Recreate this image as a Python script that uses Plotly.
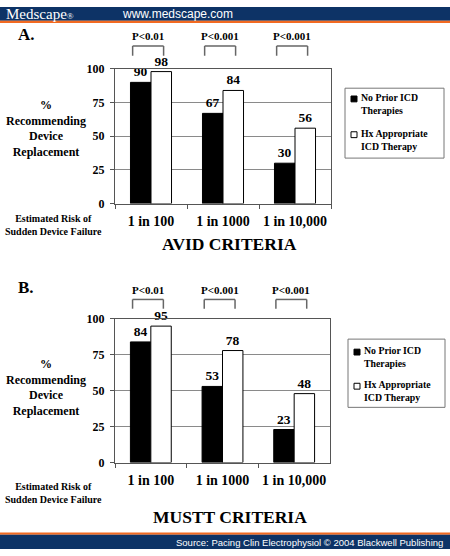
import plotly.graph_objects as go

# ---------------- data ----------------
categories = ["1 in 100", "1 in 1000", "1 in 10,000"]
avid_no_prior = [90, 67, 30]
avid_hx = [98, 84, 56]
mustt_no_prior = [84, 53, 23]
mustt_hx = [95, 78, 48]
avid_p = ["P<0.01", "P<0.001", "P<0.001"]
mustt_p = ["P<0.01", "P<0.001", "P<0.001"]
y_ticks = [0, 25, 50, 75, 100]
series_names = ["No Prior ICD<br>Therapies", "Hx Appropriate<br>ICD Therapy"]

W, H = 450, 556
SERIF = "Liberation Serif"
SANS = "Liberation Sans"
NAVY = "#0d3366"
ORANGE = "#f26a21"


def px(x):
    return x / W


def py(y):
    return 1 - y / H


fig = go.Figure()

panels = [
    ("x", "y", avid_no_prior, avid_hx),
    ("x2", "y2", mustt_no_prior, mustt_hx),
]

for xa, ya, s1, s2 in panels:
    fig.add_trace(go.Bar(
        x=categories, y=s1, xaxis=xa, yaxis=ya, name=series_names[0],
        marker=dict(color="black", line=dict(color="black", width=1)),
        text=[str(v) for v in s1], textposition="outside",
        textfont=dict(family=SERIF, size=13.5, color="black", weight="bold"),
        cliponaxis=False, showlegend=False,
    ))
    fig.add_trace(go.Bar(
        x=categories, y=s2, xaxis=xa, yaxis=ya, name=series_names[1],
        marker=dict(color="white", line=dict(color="black", width=1)),
        text=[str(v) for v in s2], textposition="outside",
        textfont=dict(family=SERIF, size=13.5, color="black", weight="bold"),
        cliponaxis=False, showlegend=False,
    ))

axis_common_x = dict(
    type="category", range=[-0.5, 2.5], showline=True, mirror=True,
    linecolor="#555", linewidth=1, ticks="outside", tickson="boundaries",
    ticklen=4, tickcolor="#555", showgrid=False, fixedrange=True, tickangle=0,
    tickfont=dict(family=SERIF, size=14, color="black", weight="bold"),
    ticklabelstandoff=5,
)
axis_common_y = dict(
    range=[0, 100], tickvals=y_ticks, showline=True, mirror=True,
    linecolor="#555", linewidth=1, ticks="outside", ticklen=4,
    tickcolor="#555", showgrid=True, gridcolor="#8a8a8a", gridwidth=1,
    zeroline=False, fixedrange=True,
    tickfont=dict(family=SERIF, size=12, color="black", weight="bold"),
    ticklabelstandoff=3,
)

fig.update_layout(
    width=W, height=H, margin=dict(l=0, r=0, t=0, b=0),
    paper_bgcolor="white", plot_bgcolor="white",
    barmode="group", bargap=0.43, bargroupgap=0.0,
    xaxis=dict(domain=[px(115), px(331)], anchor="y", **axis_common_x),
    yaxis=dict(domain=[py(201.7), py(63.5)], anchor="x", **axis_common_y),
    xaxis2=dict(domain=[px(115), px(330)], anchor="y2", **axis_common_x),
    yaxis2=dict(domain=[py(467.3), py(320.0)], anchor="x2", **axis_common_y),
)

shapes = []
annotations = []

# header / footer bands
shapes.append(dict(type="rect", xref="paper", yref="paper", x0=0, x1=1,
                   y0=py(14), y1=1, fillcolor=NAVY, line=dict(width=0), layer="below"))
shapes.append(dict(type="rect", xref="paper", yref="paper", x0=0, x1=1,
                   y0=py(16.5), y1=py(14), fillcolor=ORANGE, line=dict(width=0), layer="below"))
shapes.append(dict(type="rect", xref="paper", yref="paper", x0=0, x1=1,
                   y0=py(541.5), y1=py(539), fillcolor=ORANGE, line=dict(width=0), layer="below"))
shapes.append(dict(type="rect", xref="paper", yref="paper", x0=0, x1=1,
                   y0=0, y1=py(541.5), fillcolor=NAVY, line=dict(width=0), layer="below"))

annotations.append(dict(xref="paper", yref="paper", x=px(4), y=py(7.5), xanchor="left",
                        yanchor="middle", showarrow=False,
                        text="Medscape<span style='font-size:9px'>®</span>",
                        font=dict(family=SERIF, size=15, color="white")))
annotations.append(dict(xref="paper", yref="paper", x=px(120), y=py(7.5), xanchor="left",
                        yanchor="middle", showarrow=False, text="www.medscape.com",
                        font=dict(family=SANS, size=12, color="white")))
annotations.append(dict(xref="paper", yref="paper", x=px(445), y=py(549), xanchor="right",
                        yanchor="middle", showarrow=False,
                        text="Source: Pacing Clin Electrophysiol © 2004 Blackwell Publishing",
                        font=dict(family=SANS, size=9.5, color="white")))

panel_text = [
    dict(lab="A.", laby=28, py_=30, bt=40, bb=50, xa="x",
         title="AVID CRITERIA", ty=243, yt=124.5, er=223.5,
         leg=(345, 444, 83.3, 155), legy=[99.3, 136], pvals=avid_p),
    dict(lab="B.", laby=288, py_=290.5, bt=300, bb=309.5, xa="x2",
         title="MUSTT CRITERIA", ty=523, yt=390.5, er=499,
         leg=(348, 445, 340.7, 410.7), legy=[359, 394], pvals=mustt_p),
]

half = 0.215
for p in panel_text:
    annotations.append(dict(xref="paper", yref="paper", x=px(16), y=py(p["laby"]),
                            xanchor="left", yanchor="middle", showarrow=False, text=p["lab"],
                            font=dict(family=SERIF, size=17, color="black", weight="bold")))
    for i, ptxt in enumerate(p["pvals"]):
        annotations.append(dict(xref=p["xa"], yref="paper", x=i - 0.04, y=py(p["py_"]),
                                xanchor="center", yanchor="middle", showarrow=False, text=ptxt,
                                font=dict(family=SERIF, size=11, color="black", weight="bold")))
        x0, x1 = i - 0.04 - half, i - 0.04 + half
        for (a, b, c, d) in [(x0, x0, p["bb"], p["bt"]), (x0, x1, p["bt"], p["bt"]),
                             (x1, x1, p["bt"], p["bb"])]:
            shapes.append(dict(type="line", xref=p["xa"], yref="paper", x0=a, x1=b,
                               y0=py(c), y1=py(d), line=dict(color="#666", width=1.5)))
    annotations.append(dict(xref="paper", yref="paper", x=px(230), y=py(p["ty"]),
                            xanchor="center", yanchor="middle", showarrow=False, text=p["title"],
                            font=dict(family=SERIF, size=17.5, color="black", weight="bold")))
    annotations.append(dict(xref="paper", yref="paper", x=px(46), y=py(p["yt"]),
                            xanchor="center", yanchor="middle", showarrow=False,
                            text="%<br>Recommending<br>Device<br>Replacement", align="center",
                            font=dict(family=SERIF, size=12, color="black", weight="bold")))
    annotations.append(dict(xref="paper", yref="paper", x=px(53), y=py(p["er"]),
                            xanchor="center", yanchor="middle", showarrow=False, align="center",
                            text="Estimated Risk of<br>Sudden Device Failure",
                            font=dict(family=SERIF, size=10, color="black", weight="bold")))
    # legend box
    lx0, lx1, ly0, ly1 = p["leg"]
    shapes.append(dict(type="rect", xref="paper", yref="paper", x0=px(lx0), x1=px(lx1),
                       y0=py(ly1), y1=py(ly0), line=dict(color="#777", width=1),
                       fillcolor="white"))
    for k, yc in enumerate(p["legy"]):
        fill = "black" if k == 0 else "white"
        shapes.append(dict(type="rect", xref="paper", yref="paper", x0=px(lx0 + 6),
                           x1=px(lx0 + 12), y0=py(yc - 5 + 3), y1=py(yc - 5 - 3),
                           fillcolor=fill, line=dict(color="black", width=1)))
        annotations.append(dict(xref="paper", yref="paper", x=px(lx0 + 14), y=py(yc),
                                xanchor="left", yanchor="middle", showarrow=False,
                                text=series_names[k], align="left",
                                font=dict(family=SERIF, size=9.8, color="black", weight="bold")))

fig.update_layout(shapes=shapes, annotations=annotations)
fig.write_html(
    "out.html",
    config={"displayModeBar": False},
    post_script="document.body.style.margin='0';document.body.style.overflow='hidden';",
)
